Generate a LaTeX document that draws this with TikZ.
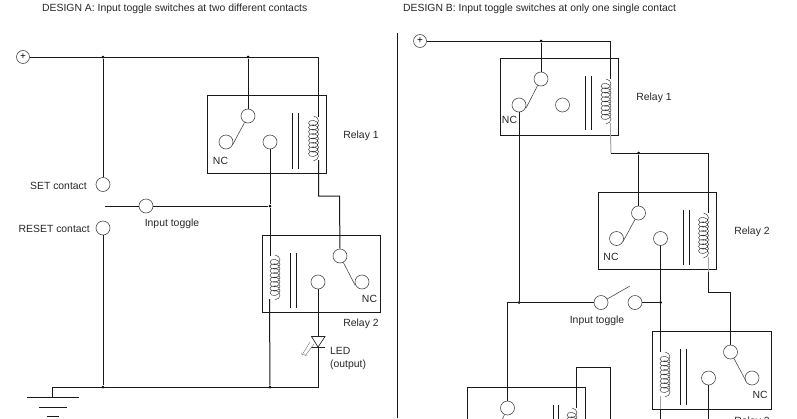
\documentclass[tikz,border=0pt]{standalone}
\usepackage{fontspec}
\setmainfont{Liberation Sans}
\usetikzlibrary{decorations.pathmorphing}
\tikzset{
  wire/.style={line width=1pt, black!90},
  fadewire/.style={line width=1pt, black!35},
  contact/.style={circle, draw=black!70, line width=0.6pt, minimum size=14pt, inner sep=0pt},
  plusterm/.style={contact, minimum size=13pt, font=\fontsize{10}{10}\selectfont},
  junction/.style={circle, fill=black, minimum size=3pt, inner sep=0pt},
  arm/.style={line width=0.6pt, black!70},
  core/.style={line width=0.8pt, black!90},
  relaybox/.style={draw=black!90, line width=1pt},
  coil/.style={line width=0.45pt, black!80, decorate,
    decoration={coil, aspect=0.75, amplitude=5pt, segment length=4.4pt}},
  lbl/.style={font=\fontsize{10.4}{12.8}\selectfont, text=black!85, inner sep=0pt, yshift=-0.8pt},
  title/.style={lbl, anchor=base west}
}
\begin{document}
\begin{tikzpicture}[x=1pt, y=-1pt]
  \useasboundingbox (0,0) rectangle (797,418);
  \node[title] (titlea) at (42,11) {DESIGN A: Input toggle switches at two different contacts};
  \node[title] (titleb) at (403,11) {DESIGN B: Input toggle switches at only one single contact};
  \coordinate (divtop) at (397.5,33);
  \coordinate (divbot) at (397.5,418);
  \draw[wire] (divtop) -- (divbot);

  % design a
  \draw[relaybox] (207.5,95.5) rectangle (326,173);
  \draw[relaybox] (262.5,235.5) rectangle (380.5,312);
  \node[plusterm] (avcc) at (23,57) {+};
  \node[junction] (aj1) at (103,57) {};
  \node[junction] (aj2) at (248,57) {};
  \coordinate (ac1top) at (318.5,57);
  \node[contact] (aset) at (103,184.5) {};
  \node[contact] (areset) at (103,228) {};
  \node[contact] (atog) at (146,206) {};
  \coordinate (atogin) at (105,206);
  \node[junction] (aj3) at (270,206) {};
  \node[contact] (a1com) at (248,116) {};
  \node[contact] (a1nc) at (226,142) {};
  \node[contact] (a1no) at (270,142) {};
  \node[contact] (a2com) at (340,256) {};
  \node[contact] (a2no) at (318,282) {};
  \node[contact] (a2nc) at (362,282) {};
  \coordinate (a1coila) at (313.5,116);
  \coordinate (a1coilb) at (313.5,161);
  \coordinate (a2coila) at (275,255);
  \coordinate (a2coilb) at (275,300);
  \draw[coil] (a1coila) -- (a1coilb);
  \draw[coil] (a2coila) -- (a2coilb);
  \draw[core] (292.5,113) -- (292.5,169) (298.5,113) -- (298.5,169);
  \draw[core] (290,253) -- (290,308) (296,253) -- (296,308);
  \draw[arm] (a1com) -- (232.5,145);
  \draw[arm] (a2com) -- (355,285);
  \draw[wire] (avcc) -- (ac1top) -- (318.5,117);
  \draw[wire] (aj1) -- (aset);
  \draw[wire] (aj2) -- (a1com);
  \draw[wire] (atogin) -- (atog);
  \draw[wire] (atog) -- (aj3);
  \draw[wire] (a1no) -- (aj3);
  \draw[wire] (aj3) -- (270,256);
  \draw[wire] (318.5,160) -- (318.5,196) -- (339.5,196) -- (a2com);
  \node[junction] (aj4) at (103,387) {};
  \node[junction] (aj5) at (270,387) {};
  \coordinate (agnd) at (52,387);
  \coordinate (agnda) at (52,397);
  \draw[wire] (areset) -- (aj4);
  \draw[wire] (269.5,299) -- (aj5);
  \coordinate (ledtop) at (318,336.5);
  \coordinate (ledbar) at (318,347);
  \coordinate (ledend) at (318,387);
  \draw[wire] (a2no) -- (ledtop);
  \draw[wire] (agnda) -- (agnd) -- (ledend) -- (ledbar);
  \draw[line width=0.7pt, black!85] (311.5,336.5) -- (325,336.5) -- (ledbar) -- cycle;
  \draw[line width=1pt, black!85] (311,347) -- (325,347);
  \draw[line width=0.4pt, black!55, ->] (310,342) -- (302,355);
  \draw[line width=0.4pt, black!55, ->] (314,344) -- (305,356);
  \draw[wire] (27,397) -- (79,397) (39,407) -- (67,407) (47,416) -- (59,416);
  \node[lbl] (arel1) at (361,135) {Relay 1};
  \node[lbl] (arel2) at (361,323) {Relay 2};
  \node[lbl] (anc1) at (220.5,160) {NC};
  \node[lbl] (anc2) at (369.5,298.5) {NC};
  \node[lbl, anchor=east] (asetl) at (87,185) {SET contact};
  \node[lbl, anchor=east] (aresetl) at (90,228) {RESET contact};
  \node[lbl] (atogl) at (172,223) {Input toggle};
  \node[lbl, anchor=west, align=left] (ledl) at (330,357.5) {LED\\(output)};

  % design b
  \draw[relaybox] (500.5,58.5) rectangle (618.5,135.5);
  \draw[relaybox] (598.5,192.5) rectangle (716.5,269.5);
  \draw[relaybox] (652.5,331.5) rectangle (771.5,409);
  \draw[relaybox] (467.5,430) -- (467.5,387.5) -- (585,387.5) -- (585,430);
  \node[plusterm] (bvcc) at (420,41) {+};
  \node[junction] (bj1) at (541,41) {};
  \coordinate (bc1top) at (610.5,41);
  \node[contact] (b1com) at (541,79) {};
  \node[contact] (b1nc) at (519,105) {};
  \node[contact] (b1no) at (562.5,105) {};
  \node[contact] (b2com) at (638.5,213) {};
  \node[contact] (b2nc) at (616.5,238.5) {};
  \node[contact] (b2no) at (660.5,238.5) {};
  \node[contact] (b3com) at (730.5,352) {};
  \node[contact] (b3no) at (708.5,378) {};
  \node[contact] (b3nc) at (752,378) {};
  \node[contact] (b4com) at (507.5,408) {};
  \draw[coil] (606,79) -- (606,124);
  \draw[coil] (703.5,213) -- (703.5,258);
  \draw[coil] (665,352) -- (665,397);
  \draw[coil] (572,408) -- (572,453);
  \draw[core] (585.5,76) -- (585.5,130) (591,76) -- (591,130);
  \draw[core] (683,210) -- (683,265) (689,210) -- (689,265);
  \draw[core] (680.5,349) -- (680.5,405) (686,349) -- (686,405);
  \draw[core] (553,405) -- (553,430) (558.5,405) -- (558.5,430);
  \draw[arm] (b1com) -- (526,108);
  \draw[arm] (b2com) -- (623,241.5);
  \draw[arm] (b3com) -- (746,381);
  \draw[arm] (b4com) -- (502,420);
  \draw[wire] (bvcc) -- (bc1top) -- (610.5,79);
  \draw[wire] (bj1) -- (b1com);
  \node[junction] (bj2) at (638.5,153) {};
  \node[junction] (bj3) at (519,302.5) {};
  \node[junction] (bj4) at (660.5,302.5) {};
  \node[contact] (btoga) at (601,302.5) {};
  \node[contact] (btogb) at (635,302.5) {};
  \coordinate (btogarm) at (630,286);
  \draw[arm] (btoga) -- (btogarm);
  \draw[fadewire] (610.5,123) -- (610.5,136);
  \draw[fadewire] (610.5,136) -- (611,153);
  \draw[wire] (611,153) -- (708.5,153) -- (708.5,213);
  \draw[wire] (bj2) -- (b2com);
  \draw[wire] (b1nc) -- (bj3);
  \draw[wire] (b2no) -- (bj4);
  \draw[wire] (bj4) -- (660.5,352);
  \draw[fadewire] (708.5,257) -- (708.5,272);
  \draw[wire] (708.5,272) -- (708.5,292) -- (730.5,292) -- (b3com);
  \draw[wire] (btoga) -- (507.5,302.5) -- (b4com);
  \draw[wire] (btogb) -- (bj4);
  \draw[fadewire] (660.5,396) -- (660.5,409);
  \draw[wire] (660.5,409) -- (660.5,430);
  \draw[wire] (b3no) -- (708.5,430);
  \draw[wire] (576.5,408) -- (576.5,367.5) -- (610.5,367.5) -- (610.5,430);
  \node[lbl] (brel1) at (654,97) {Relay 1};
  \node[lbl] (brel2) at (752,231) {Relay 2};
  \node[lbl] (brel3) at (752,421) {Relay 3};
  \node[lbl] (bnc1) at (509.5,119.5) {NC};
  \node[lbl] (bnc2) at (611,256) {NC};
  \node[lbl] (bnc3) at (760,394.5) {NC};
  \node[lbl] (btogl) at (597,320) {Input toggle};
\end{tikzpicture}
\end{document}
